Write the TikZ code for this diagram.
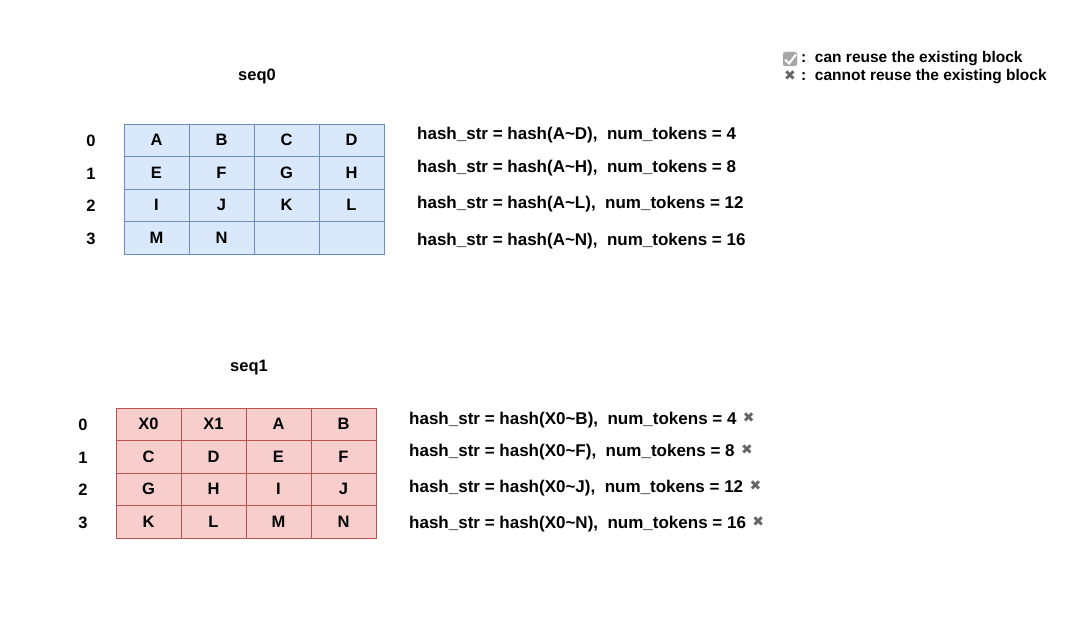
\documentclass[tikz,border=0pt]{standalone}
\usepackage{fontspec}
\setmainfont{Liberation Sans}
\newfontfamily\sym{DejaVu Sans}
\definecolor{bfil}{HTML}{DAE8FC}
\definecolor{bstr}{HTML}{6C8EBF}
\definecolor{rfil}{HTML}{F8CECC}
\definecolor{rstr}{HTML}{B85450}
\begin{document}
\begin{tikzpicture}[x=1pt,y=-1pt,
  lbl/.style={font=\bfseries\fontsize{16.5}{18}\selectfont,inner sep=0pt},
  txt/.style={font=\bfseries\fontsize{17}{19}\selectfont,anchor=west,inner sep=0pt},
  leg/.style={font=\bfseries\fontsize{15.5}{17}\selectfont,anchor=west,inner sep=0pt},
  bcell/.style={draw=bstr,fill=bfil,minimum width=65pt,minimum height=32.5pt,inner sep=0pt,font=\bfseries\fontsize{16.5}{18}\selectfont},
  rcell/.style={draw=rstr,fill=rfil,minimum width=65pt,minimum height=32.5pt,inner sep=0pt,font=\bfseries\fontsize{16.5}{18}\selectfont},
  xmark/.style={font=\sym\bfseries\fontsize{14}{14}\selectfont,text=gray!80!black,inner sep=0pt}]
\useasboundingbox (0,0) rectangle (1080,617);
% legend
\node[draw=gray!60,fill=gray!70,rounded corners=2.5pt,minimum size=14pt,inner sep=0pt] (chk) at (790,59) {};
\draw[white,line width=2pt] (785,59.5) -- (789,63.5) -- (796,54.5);
\node[leg] (l1) at (801,59) {:\ \ can reuse the existing block};
\node[xmark] (lx) at (790,76) {✖};
\node[leg] (l2) at (801,77) {:\ \ cannot reuse the existing block};
% seq0
\node[lbl] (t0) at (257,76) {seq0};
\foreach \r/\a/\b/\c/\d in {0/A/B/C/D,1/E/F/G/H,2/I/J/K/L,3/M/N//}{
  \node[lbl] (ra\r) at (91,{141+32.5*\r}) {\r};
  \node[bcell] (a\r0) at (156.5,{140.25+32.5*\r}) {\a};
  \node[bcell] (a\r1) at (221.5,{140.25+32.5*\r}) {\b};
  \node[bcell] (a\r2) at (286.5,{140.25+32.5*\r}) {\c};
  \node[bcell] (a\r3) at (351.5,{140.25+32.5*\r}) {\d};
}
\node[txt] (h00) at (417,135) {hash\_str = hash(A\textasciitilde D),\ \ num\_tokens = 4};
\node[txt] (h01) at (417,168) {hash\_str = hash(A\textasciitilde H),\ \ num\_tokens = 8};
\node[txt] (h02) at (417,204) {hash\_str = hash(A\textasciitilde L),\ \ num\_tokens = 12};
\node[txt] (h03) at (417,241) {hash\_str = hash(A\textasciitilde N),\ \ num\_tokens = 16};
% seq1
\node[lbl] (t1) at (249,368) {seq1};
\foreach \r/\a/\b/\c/\d in {0/X0/X1/A/B,1/C/D/E/F,2/G/H/I/J,3/K/L/M/N}{
  \node[lbl] (rb\r) at (83,{425+32.5*\r}) {\r};
  \node[rcell] (b\r0) at (148.5,{424.25+32.5*\r}) {\a};
  \node[rcell] (b\r1) at (213.5,{424.25+32.5*\r}) {\b};
  \node[rcell] (b\r2) at (278.5,{424.25+32.5*\r}) {\c};
  \node[rcell] (b\r3) at (343.5,{424.25+32.5*\r}) {\d};
}
\node[txt] (h10) at (409,420) {hash\_str = hash(X0\textasciitilde B),\ \ num\_tokens = 4};
\node[txt] (h11) at (409,452) {hash\_str = hash(X0\textasciitilde F),\ \ num\_tokens = 8};
\node[txt] (h12) at (409,488) {hash\_str = hash(X0\textasciitilde J),\ \ num\_tokens = 12};
\node[txt] (h13) at (409,524) {hash\_str = hash(X0\textasciitilde N),\ \ num\_tokens = 16};
\foreach \i in {0,...,3}{\node[xmark,anchor=west] at ([xshift=6pt,yshift=2pt]h1\i.east) {✖};}
\end{tikzpicture}
\end{document}
